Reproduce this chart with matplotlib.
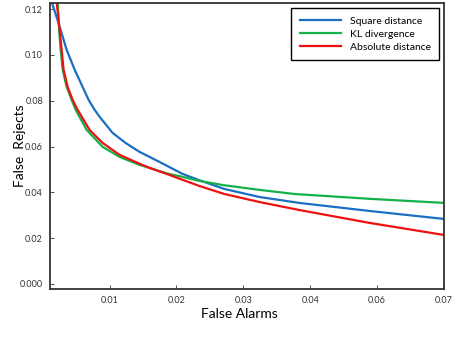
import matplotlib
matplotlib.use("Agg")
import matplotlib.pyplot as plt

plt.rcParams['font.family'] = ['Lato', 'DejaVu Sans']

# valores (eje x en posicion de marca)
x_square = [0.00134, 0.00254, 0.00358, 0.00478, 0.00597, 0.00687, 0.00776, 0.00851, 0.01045, 0.01239,
            0.01448, 0.01746, 0.02090, 0.02343, 0.02716, 0.03239, 0.03836, 0.04881, 0.06000]
y_square = [0.1233, 0.1124, 0.1023, 0.0936, 0.0861, 0.0804, 0.0761, 0.0730, 0.0660, 0.0616,
            0.0577, 0.0533, 0.0481, 0.0453, 0.0415, 0.0380, 0.0354, 0.0319, 0.0284]

x_kl = [0.00224, 0.00246, 0.00269, 0.00299, 0.00358, 0.00433, 0.00493, 0.00657, 0.00896, 0.01149,
        0.01448, 0.01597, 0.01851, 0.02090, 0.02343, 0.02716, 0.03239, 0.03761, 0.04881, 0.06000]
y_kl = [0.1233, 0.1110, 0.1023, 0.0936, 0.0861, 0.0804, 0.0761, 0.0673, 0.0599, 0.0555,
        0.0520, 0.0507, 0.0483, 0.0468, 0.0450, 0.0431, 0.0411, 0.0393, 0.0372, 0.0354]

x_abs = [0.00209, 0.00254, 0.00284, 0.00313, 0.00373, 0.00448, 0.00522, 0.00701, 0.00896, 0.01149,
         0.01448, 0.01597, 0.01851, 0.02090, 0.02343, 0.02716, 0.03239, 0.03836, 0.04881, 0.06000]
y_abs = [0.1233, 0.1110, 0.1023, 0.0936, 0.0861, 0.0804, 0.0761, 0.0673, 0.0616, 0.0564,
         0.0525, 0.0507, 0.0481, 0.0455, 0.0428, 0.0393, 0.0358, 0.0323, 0.0267, 0.0214]

xticks = [0.01, 0.02, 0.03, 0.04, 0.05, 0.06]
xtick_labels = ['0.01', '0.02', '0.03', '0.04', '0.06', '0.07']
yticks = [0.0, 0.02, 0.04, 0.06, 0.08, 0.10, 0.12]
ytick_labels = ['0.000', '0.02', '0.04', '0.06', '0.08', '0.10', '0.12']

fig = plt.figure(figsize=(4.74, 3.48), dpi=100)
ax = fig.add_axes([0.1055, 0.1695, 0.8312, 0.8219])

ax.plot(x_square, y_square, color='#1a6fc4', lw=1.6, label='Square distance')
ax.plot(x_kl, y_kl, color='#14b04a', lw=1.6, label='KL divergence')
ax.plot(x_abs, y_abs, color='#ee1111', lw=1.6, label='Absolute distance')

ax.set_xlim(0.0011, 0.06)
ax.set_ylim(-0.0022, 0.1227)
ax.set_xticks(xticks)
ax.set_xticklabels(xtick_labels)
ax.set_yticks(yticks)
ax.set_yticklabels(ytick_labels)
ax.tick_params(direction='in', length=3, width=0.6, labelsize=6.5, colors='#333333', pad=5)

for s in ax.spines.values():
    s.set_linewidth(1.3)
    s.set_color('#333333')

ax.set_xlabel('False Alarms', fontsize=10)
ax.xaxis.set_label_coords(0.48, -0.065)
ax.set_ylabel('False  Rejects', fontsize=10)
ax.yaxis.set_label_coords(-0.062, 0.5)

leg = ax.legend(loc='upper right', bbox_to_anchor=(0.987, 0.982), borderaxespad=0,
                fontsize=7.5, fancybox=False, framealpha=1, edgecolor='black',
                handlelength=4.0, handletextpad=0.8, borderpad=0.8, labelspacing=0.35)
leg.get_frame().set_linewidth(1.0)

fig.savefig('out.png', dpi=100)
